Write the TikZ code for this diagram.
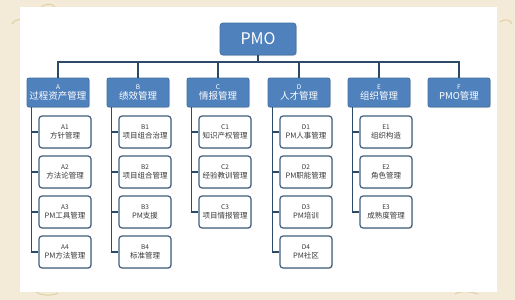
\documentclass[tikz,border=0pt]{standalone}
\usepackage{fontspec}
\newfontfamily\cjk{Noto Sans CJK SC}
\usetikzlibrary{shadows}
\definecolor{bgbeige}{HTML}{F4EAD8}
\definecolor{swirl}{HTML}{E2CFA4}
\definecolor{boxblue}{HTML}{4F81BD}
\definecolor{boxedge}{HTML}{41709F}
\definecolor{linecol}{HTML}{2E4A6A}
\definecolor{childedge}{HTML}{41607F}
\definecolor{txtgray}{HTML}{383838}
\newcommand\labl[1]{{\fontsize{6.5}{7}\selectfont #1}}
\tikzset{
  pmobox/.style={draw=boxedge, fill=boxblue, rounded corners=3pt, minimum width=76pt, minimum height=32pt, text=white, font=\cjk\fontsize{16}{18}\selectfont, line width=0.8pt, drop shadow={opacity=0.25,shadow xshift=1pt,shadow yshift=-1pt}},
  lvlbox/.style={draw=boxedge, fill=boxblue, rounded corners=2pt, minimum width=62pt, minimum height=29pt, text=white, align=center, inner sep=1pt, font=\cjk\fontsize{9.5}{10.5}\selectfont, line width=0.8pt, drop shadow={opacity=0.25,shadow xshift=1pt,shadow yshift=-1pt}},
  childbox/.style={draw=childedge, fill=white, rounded corners=3pt, minimum width=52pt, minimum height=32pt, text=txtgray, align=center, inner sep=1pt, font=\cjk\fontsize{7.5}{9.5}\selectfont, line width=1.2pt, drop shadow={opacity=0.2,shadow xshift=1pt,shadow yshift=-1pt}},
  conn/.style={draw=linecol, line width=1.2pt},
  deco/.style={draw=swirl, line width=1pt}
}
\begin{document}
\begin{tikzpicture}[x=1pt,y=-1pt]
\fill[bgbeige] (0,0) rectangle (515,300);
\useasboundingbox (0,0) rectangle (515,300);
% faint corner ornaments
\draw[deco] (12,24) .. controls (16,18) and (24,18) .. (26,22);
\draw[deco] (40,8) .. controls (46,2) and (54,4) .. (56,8);
\draw[deco] (500,22) .. controls (506,18) and (510,20) .. (512,24);
\draw[deco] (36,292) .. controls (42,296) and (52,296) .. (58,293);
\draw[deco] (455,294) .. controls (462,290) and (472,292) .. (478,294);
\fill[white] (20,7) rectangle (497,292);
% top
\node[pmobox] (pmo) at (258,39) {PMO};
% level 1
\node[lvlbox] (A) at (58,92.5) {\labl{A}\\过程资产管理};
\node[lvlbox] (B) at (138,92.5) {\labl{B}\\绩效管理};
\node[lvlbox] (C) at (218,92.5) {\labl{C}\\情报管理};
\node[lvlbox] (D) at (299,92.5) {\labl{D}\\人才管理};
\node[lvlbox] (E) at (379,92.5) {\labl{E}\\组织管理};
\node[lvlbox] (F) at (459,92.5) {\labl{F}\\PMO管理};
\coordinate (bus) at (258,62);
\foreach \n in {A,B,C,D,E,F}{
  \draw[conn] (pmo.south) |- (bus -| \n.north) -- (\n.north);
}
% children
\node[childbox] (A1) at (65,132) {\labl{A1}\\方针管理};
\node[childbox] (A2) at (65,172) {\labl{A2}\\方法论管理};
\node[childbox] (A3) at (65,212) {\labl{A3}\\PM工具管理};
\node[childbox] (A4) at (65,252) {\labl{A4}\\PM方法管理};
\node[childbox] (B1) at (145,132) {\labl{B1}\\项目组合治理};
\node[childbox] (B2) at (145,172) {\labl{B2}\\项目组合管理};
\node[childbox] (B3) at (145,212) {\labl{B3}\\PM支援};
\node[childbox] (B4) at (145,252) {\labl{B4}\\标准管理};
\node[childbox] (C1) at (225,132) {\labl{C1}\\知识产权管理};
\node[childbox] (C2) at (225,172) {\labl{C2}\\经验教训管理};
\node[childbox] (C3) at (225,212) {\labl{C3}\\项目情报管理};
\node[childbox] (D1) at (306,132) {\labl{D1}\\PM人事管理};
\node[childbox] (D2) at (306,172) {\labl{D2}\\PM职能管理};
\node[childbox] (D3) at (306,212) {\labl{D3}\\PM培训};
\node[childbox] (D4) at (306,252) {\labl{D4}\\PM社区};
\node[childbox] (E1) at (386,132) {\labl{E1}\\组织构造};
\node[childbox] (E2) at (386,172) {\labl{E2}\\角色管理};
\node[childbox] (E3) at (386,212) {\labl{E3}\\成熟度管理};
% spines
\foreach \p/\last/\kids in {A/A4/{A1,A2,A3}, B/B4/{B1,B2,B3}, C/C3/{C1,C2}, D/D4/{D1,D2,D3}, E/E3/{E1,E2}}{
  \draw[conn] ([xshift=5pt]\p.south west) |- (\last.west);
  \foreach \k in \kids {
    \draw[conn] ([xshift=5pt]\p.south west |- \k.west) -- (\k.west);
  }
}
\end{tikzpicture}
\end{document}
